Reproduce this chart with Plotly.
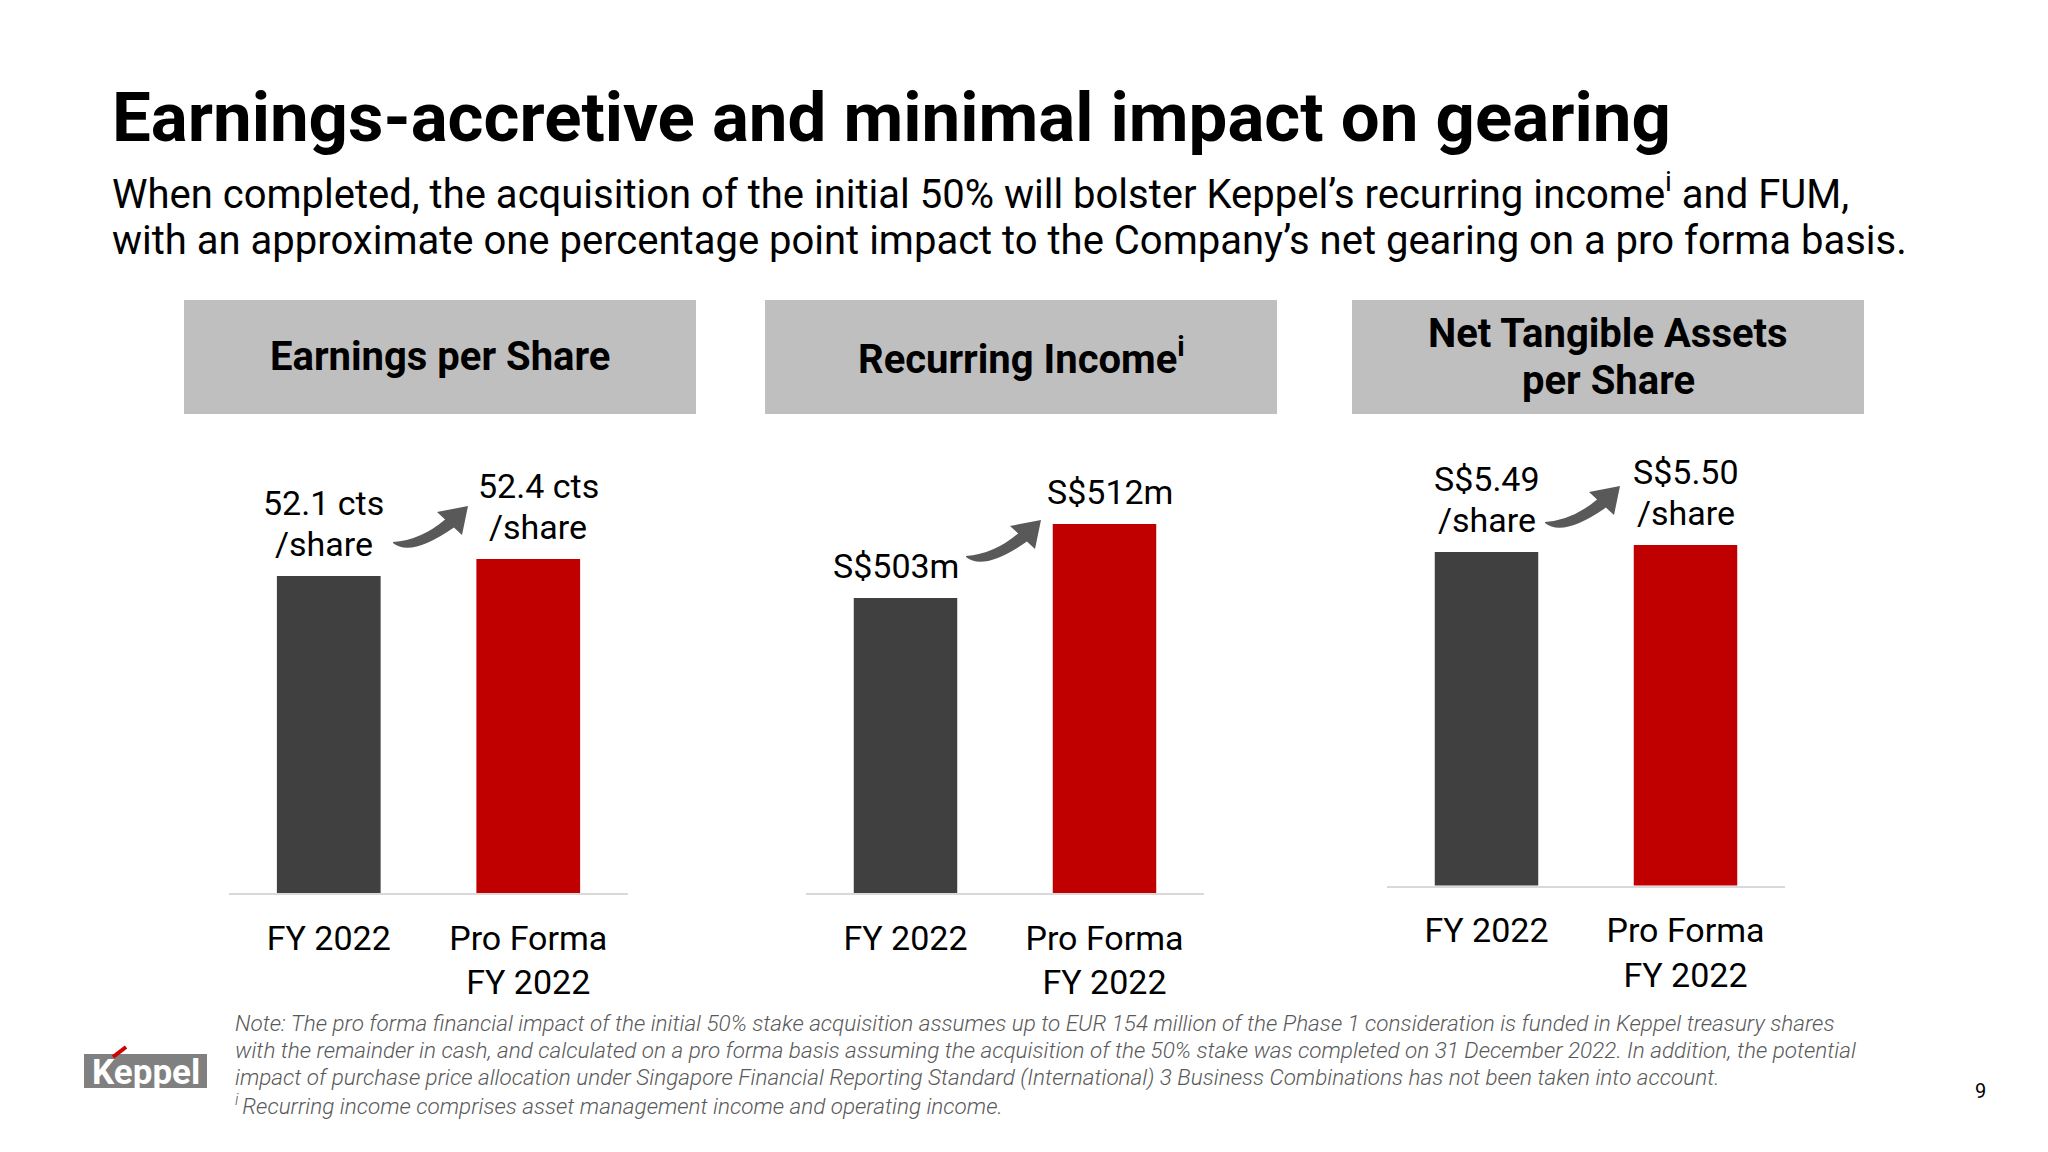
import plotly.graph_objects as go

# ---------------- data ----------------
categories = ["FY 2022", "Pro Forma<br>FY 2022"]
eps_values = [52.1, 52.4]
eps_labels = ["52.1 cts<br>/share", "52.4 cts<br>/share"]
ri_values = [503, 512]
ri_labels = ["S$503m", "S$512m"]
nta_values = [5.49, 5.50]
nta_labels = ["S$5.49<br>/share", "S$5.50<br>/share"]
panel_titles = ["Earnings per Share", "Recurring Income<sup>i</sup>", "Net Tangible Assets<br>per Share"]
bar_colors = ["#404040", "#C00000"]

title_text = "Earnings-accretive and minimal impact on gearing"
subtitle_lines = ["When completed, the acquisition of the initial 50% will bolster Keppel\u2019s recurring income<sup>i</sup> and FUM,",
                  "with an approximate one percentage point impact to the Company\u2019s net gearing on a pro forma basis."]
footnote_lines = ["Note: The pro forma financial impact of the initial 50% stake acquisition assumes up to EUR 154 million of the Phase 1 consideration is funded in Keppel treasury shares",
                  "with the remainder in cash, and calculated on a pro forma basis assuming the acquisition of the 50% stake was completed on 31 December 2022. In addition, the potential",
                  "impact of purchase price allocation under Singapore Financial Reporting Standard (International) 3 Business Combinations has not been taken into account.",
                  "<sup>i </sup>Recurring income comprises asset management income and operating income."]

W, H = 2048, 1152
def px(x): return x / W
def py(y): return 1 - y / H

FONT = "Roboto"

panels = [
    dict(values=eps_values, labels=eps_labels, xdom=[229, 628], ybot=893, ytop=400,
         yrange=[46.506, 55.206], box=[184, 696], lab_dx=[-5, 10], tail=(393, 542)),
    dict(values=ri_values, labels=ri_labels, xdom=[806, 1204], ybot=893, ytop=400,
         yrange=[467.12, 527.08], box=[765, 1277], lab_dx=[-10, 5], tail=(966, 556)),
    dict(values=nta_values, labels=nta_labels, xdom=[1387, 1785], ybot=885.5, ytop=400,
         yrange=[5.0136, 5.707], box=[1352, 1864], lab_dx=[0, 0], tail=(1545, 522)),
]

fig = go.Figure()
shapes = []
annotations = []

def arrow_path(x0, y0):
    pts = [("M", [(0, 0)]), ("Q", [(28, -2), (52.1, -22.6)]), ("L", [(44, -30)]),
           ("L", [(75, -36)]), ("L", [(69, -7)]), ("L", [(60.9, -14.4)]),
           ("Q", [(17.6, 15.7), (0, 1)])]
    s = ""
    for cmd, ps in pts:
        s += cmd + " " + " ".join(f"{px(x0 + a):.5f},{py(y0 + b):.5f}" for a, b in ps) + " "
    return s + "Z"

for i, p in enumerate(panels, start=1):
    xa = "x" if i == 1 else f"x{i}"
    ya = "y" if i == 1 else f"y{i}"
    fig.add_trace(go.Bar(x=list(range(len(categories))), y=p["values"], width=0.52,
                         marker=dict(color=bar_colors, line=dict(width=0)),
                         xaxis=xa, yaxis=ya, showlegend=False, hoverinfo="skip"))
    fig.update_layout(**{
        ("xaxis" if i == 1 else f"xaxis{i}"): dict(
            domain=[px(p["xdom"][0]), px(p["xdom"][1])], anchor=ya,
            range=[-0.5, 1.5], tickmode="array", tickvals=[0, 1], ticktext=categories,
            showline=True, linecolor="#D9D9D9", linewidth=2, showgrid=False, zeroline=False,
            ticks="", ticklabelstandoff=14,
            tickfont=dict(family=FONT, size=34, color="#000000")),
        ("yaxis" if i == 1 else f"yaxis{i}"): dict(
            domain=[py(p["ybot"]), py(p["ytop"])], anchor=xa, range=p["yrange"],
            visible=False, showgrid=False, zeroline=False),
    })
    for j, (v, lab) in enumerate(zip(p["values"], p["labels"])):
        lines = lab.split("<br>")
        n = len(lines)
        for k, ln in enumerate(lines):
            annotations.append(dict(x=j, y=v, xref=xa, yref=ya, text=ln, showarrow=False,
                                    xanchor="center", yanchor="middle",
                                    yshift=32 + (n - 1 - k) * 41, xshift=p["lab_dx"][j],
                                    font=dict(family=FONT, size=34, color="#000000")))
    # header box
    shapes.append(dict(type="rect", xref="paper", yref="paper",
                       x0=px(p["box"][0]), x1=px(p["box"][1]), y0=py(414), y1=py(300),
                       fillcolor="#BFBFBF", line=dict(width=0), layer="below"))
    hl = panel_titles[i - 1].split("<br>")
    hy = [356] if len(hl) == 1 else [333, 380]
    for ln, yy in zip(hl, hy):
        annotations.append(dict(x=px((p["box"][0] + p["box"][1]) / 2), y=py(yy), xref="paper", yref="paper",
                                text="<b>" + ln + "</b>", showarrow=False,
                                xanchor="center", yanchor="middle",
                                font=dict(family=FONT, size=40, color="#000000")))
    # curved arrow
    shapes.append(dict(type="path", xref="paper", yref="paper", path=arrow_path(*p["tail"]),
                       fillcolor="#595959", line=dict(width=0)))

# title & subtitle
annotations.append(dict(x=px(110), y=py(117), xref="paper", yref="paper", text="<b>" + title_text + "</b>",
                        showarrow=False, xanchor="left", yanchor="middle",
                        font=dict(family=FONT, size=69, color="#000000")))
for ln, yy in zip(subtitle_lines, [192, 240]):
    annotations.append(dict(x=px(110), y=py(yy), xref="paper", yref="paper", text=ln,
                            showarrow=False, xanchor="left", yanchor="middle", align="left",
                            font=dict(family=FONT, size=40, color="#000000")))
# footnote
for ln, yy in zip(footnote_lines, [1023, 1050, 1077, 1104]):
    annotations.append(dict(x=px(233), y=py(yy), xref="paper", yref="paper", text=ln,
                            showarrow=False, xanchor="left", yanchor="middle", align="left",
                            font=dict(family=FONT, size=22.5, color="#595959", style="italic", weight=300)))
# page number
annotations.append(dict(x=px(1980), y=py(1091), xref="paper", yref="paper", text="9",
                        showarrow=False, xanchor="center", yanchor="middle",
                        font=dict(family=FONT, size=20, color="#000000")))
# logo
shapes.append(dict(type="rect", xref="paper", yref="paper", x0=px(84), x1=px(207), y0=py(1088), y1=py(1054),
                   fillcolor="#808080", line=dict(width=0)))
annotations.append(dict(x=px(145.5), y=py(1072), xref="paper", yref="paper", text="<b>Keppel</b>",
                        showarrow=False, xanchor="center", yanchor="middle",
                        font=dict(family=FONT, size=35, color="#FFFFFF")))
shapes.append(dict(type="line", xref="paper", yref="paper", x0=px(113), y0=py(1057), x1=px(126), y1=py(1047),
                   line=dict(color="#D00000", width=4)))

fig.update_layout(width=W, height=H, autosize=False,
                  margin=dict(l=0, r=0, t=0, b=0),
                  paper_bgcolor="#FFFFFF", plot_bgcolor="rgba(0,0,0,0)",
                  shapes=shapes, annotations=annotations, bargap=0.48,
                  font=dict(family=FONT))

fig.write_html("out.html")
